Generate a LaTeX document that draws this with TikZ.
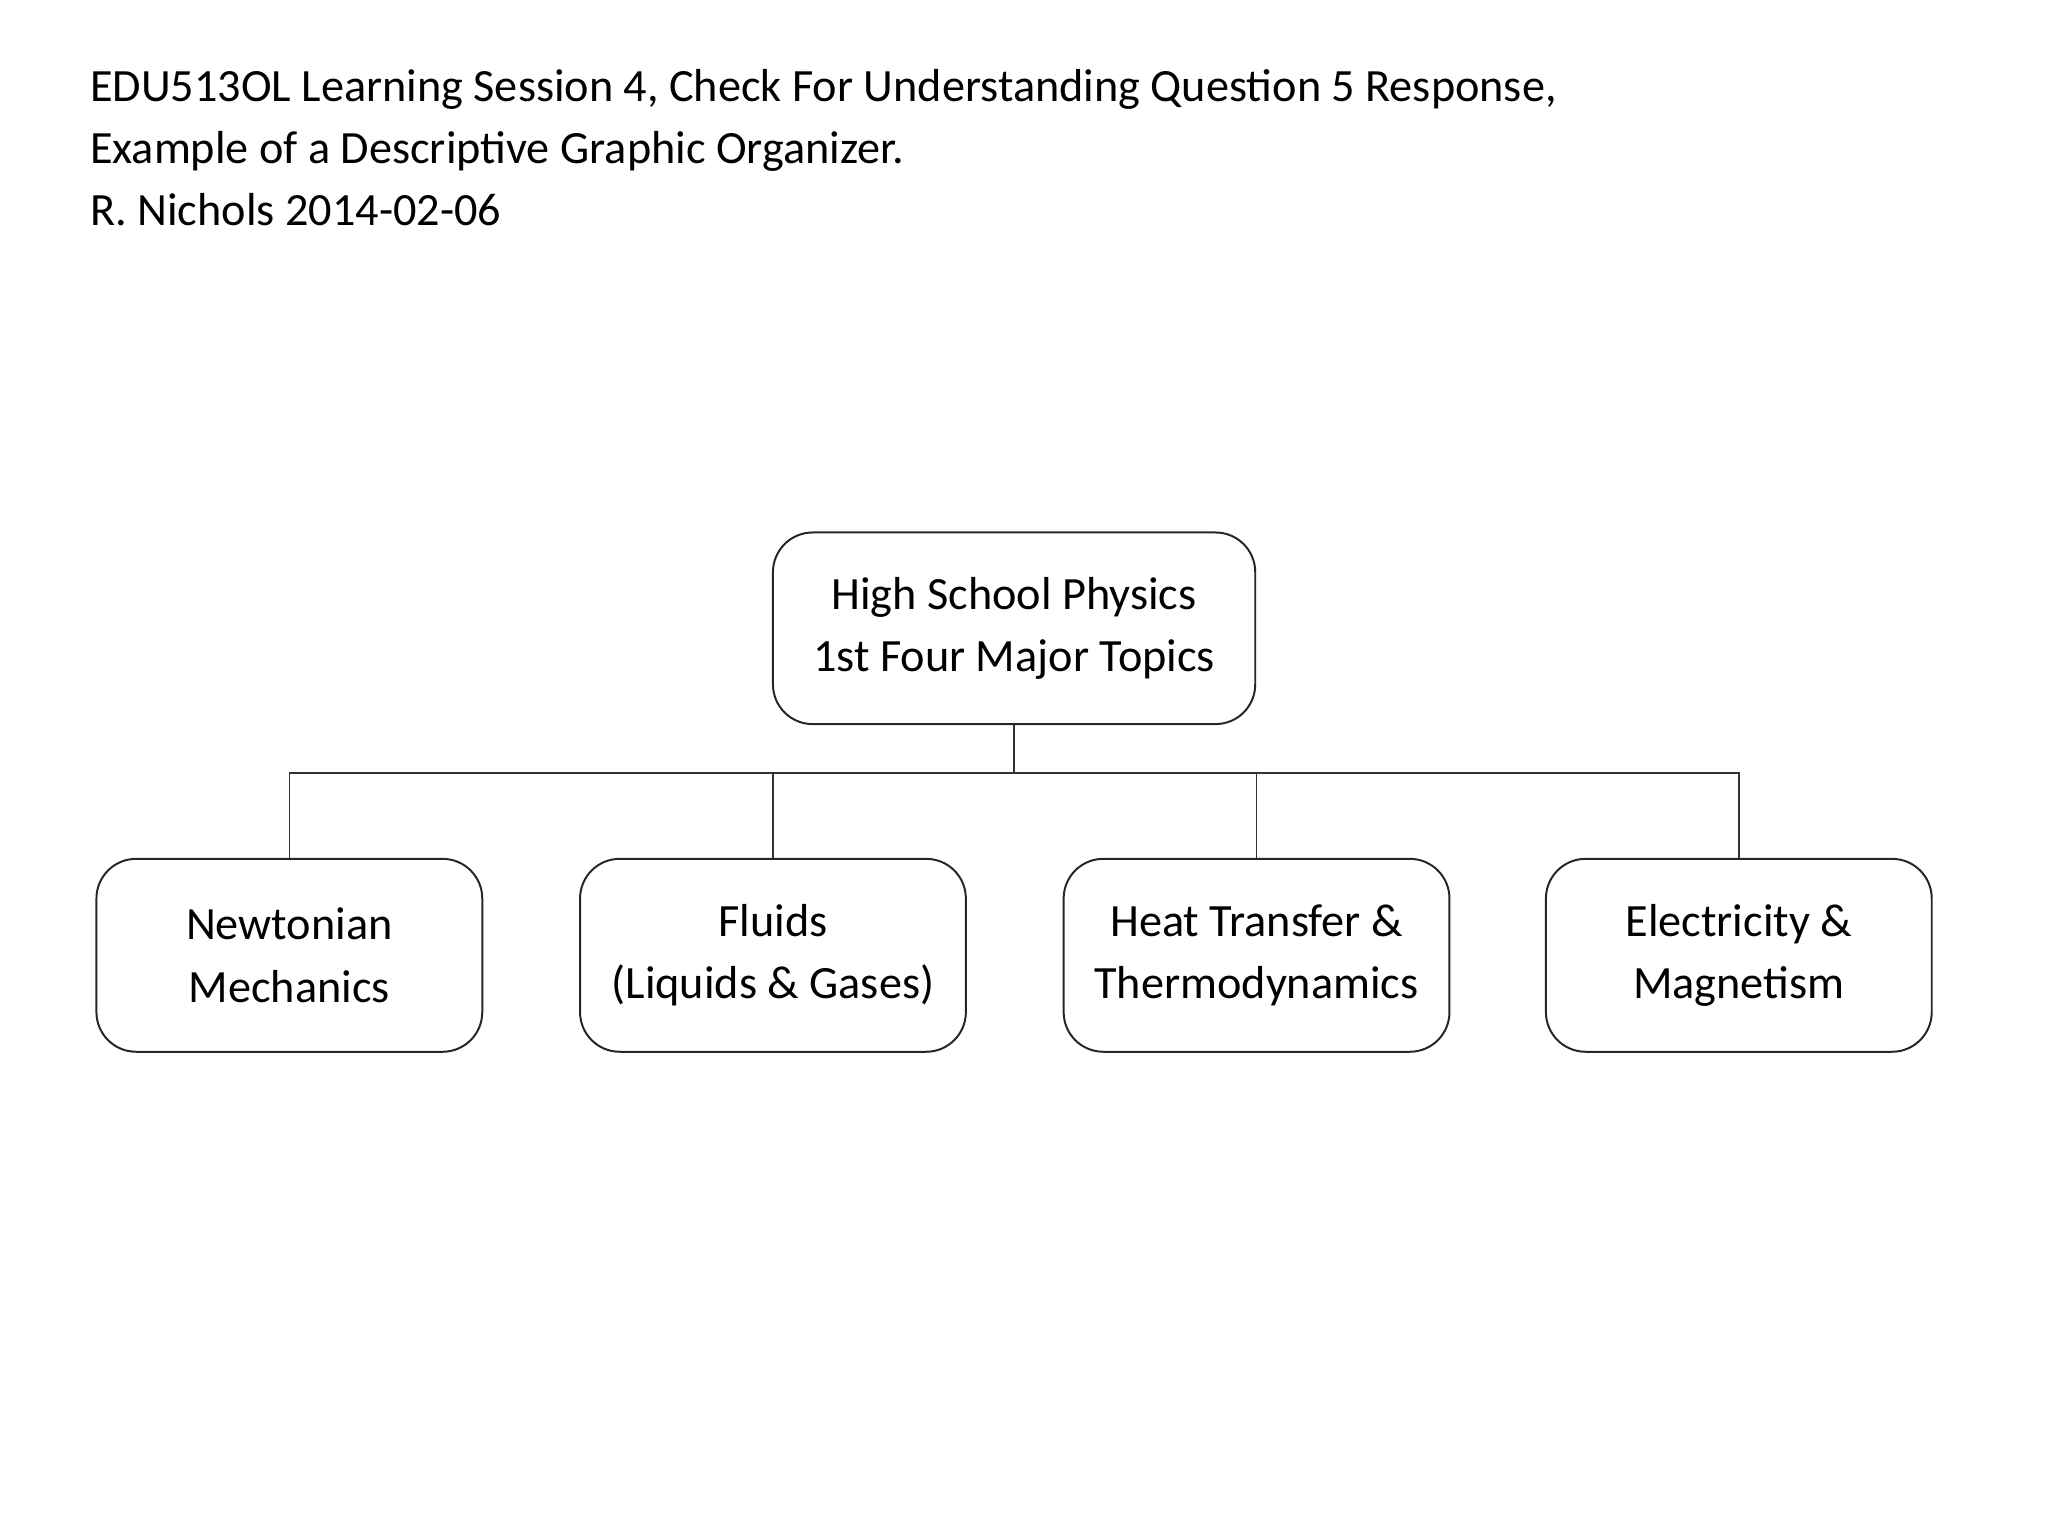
\documentclass[tikz,border=0pt]{standalone}
\usepackage{fontspec}
\setmainfont{Carlito}
\begin{document}
\begin{tikzpicture}[x=1pt,y=-1pt,
  box/.style={draw=black!85,line width=1.5pt,rounded corners=30pt,minimum width=292pt,minimum height=146pt,align=center,font=\fontsize{35}{47}\selectfont,inner sep=0pt},
  conn/.style={draw=black!80,line width=1.2pt}]
\useasboundingbox (0,0) rectangle (1550,1162.5);
\node[anchor=north west,align=left,font=\fontsize{35}{47}\selectfont,inner sep=0pt] (title) at (68,52) {EDU513OL Learning Session 4, Check For Understanding Question 5 Response,\\Example of a Descriptive Graphic Organizer.\\R. Nichols 2014-02-06};
\node[box,minimum width=365pt,minimum height=145pt] (top) at (767.5,475.5) {High School Physics\\1st Four Major Topics};
\node[box] (a) at (219,723) {Newtonian\\Mechanics};
\node[box] (b) at (585,723) {Fluids\\(Liquids \& Gases)};
\node[box] (c) at (951,723) {Heat Transfer \&\\Thermodynamics};
\node[box] (d) at (1316,723) {Electricity \&\\Magnetism};
\coordinate (bus) at (767.5,585);
\draw[conn] (top.south) -- (bus);
\foreach \n in {a,b,c,d}{\draw[conn] (bus) -| (\n.north);}
\end{tikzpicture}
\end{document}
